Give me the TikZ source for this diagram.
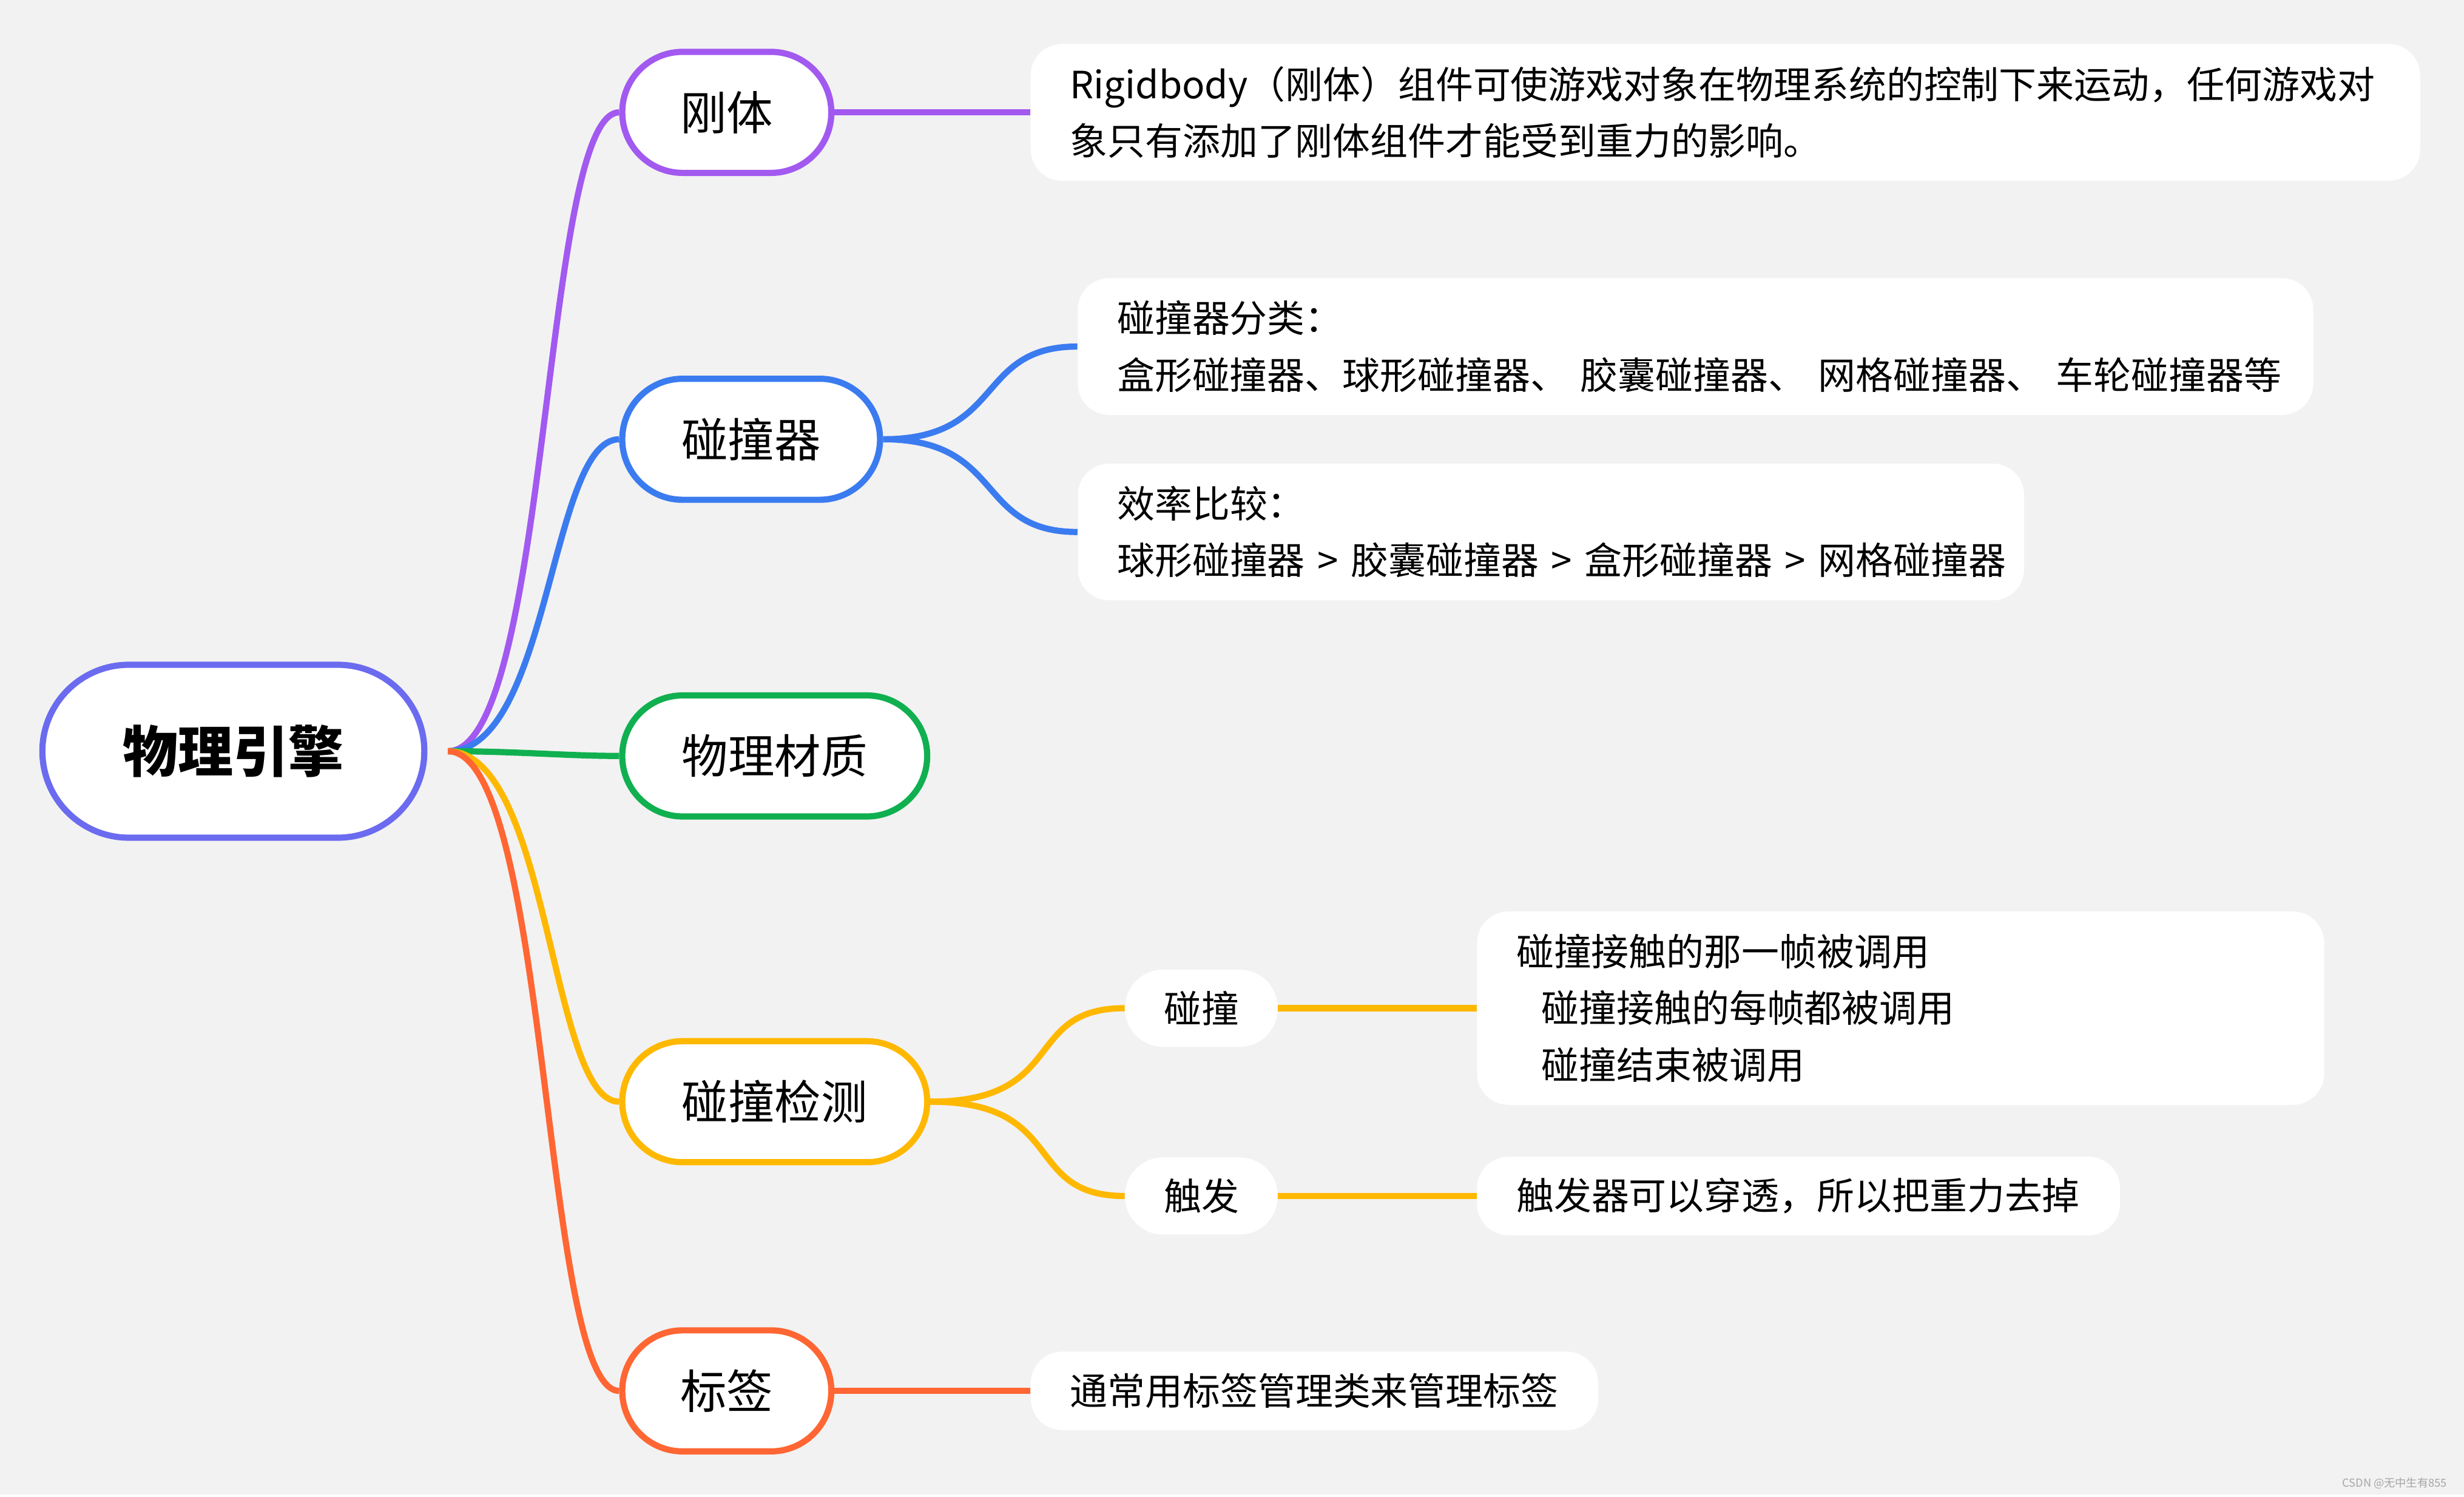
\documentclass[tikz,border=0pt]{standalone}
\usepackage{fontspec}
\setmainfont{Noto Sans CJK SC}
\definecolor{bg}{HTML}{F2F2F2}
\definecolor{croot}{HTML}{6B6BF0}
\definecolor{cpur}{HTML}{A259F0}
\definecolor{cblue}{HTML}{3B7BF0}
\definecolor{cgreen}{HTML}{10B050}
\definecolor{cyel}{HTML}{FFB800}
\definecolor{corg}{HTML}{FF6633}
\begin{document}
\begin{tikzpicture}[x=0.025cm,y=-0.025cm,
  mainbox/.style={draw,line width=2.8pt,fill=white,rounded corners=0.96cm,minimum height=1.925cm,inner sep=0pt,font=\fontsize{21}{25}\selectfont},
  leaf/.style={fill=white,rounded corners=0.5cm,align=left,inner xsep=0.625cm,inner ysep=0pt,font=\fontsize{17}{25.6}\selectfont},
  small/.style={fill=white,rounded corners=0.6cm,minimum width=2.425cm,minimum height=1.225cm,inner sep=0pt,font=\fontsize{17}{20}\selectfont},
  conn/.style={line width=2.8pt}]
\fill[bg] (0,0) rectangle (1568,951);
\node[draw=croot,line width=2.8pt,fill=white,rounded corners=1.375cm,minimum width=6.075cm,minimum height=2.75cm,font=\fontsize{25}{30}\selectfont\bfseries] (root) at (148.5,478) {物理引擎};
\node[mainbox,draw=cpur,minimum width=3.325cm] (gt) at (462.5,71.5) {刚体};
\node[mainbox,draw=cblue,minimum width=4.1cm] (pzq) at (478,279.5) {碰撞器};
\node[mainbox,draw=cgreen,minimum width=4.85cm] (wlcz) at (493,481) {物理材质};
\node[mainbox,draw=cyel,minimum width=4.85cm] (pzjc) at (493,701) {碰撞检测};
\node[mainbox,draw=corg,minimum width=3.325cm] (bq) at (462.5,885) {标签};
\node[leaf,text width=20.85cm,minimum height=2.175cm] (l1) at (1098,71.5) {Rigidbody（刚体）组件可使游戏对象在物理系统的控制下来运动，任何游戏对\\象只有添加了刚体组件才能受到重力的影响。};
\node[leaf,text width=18.4cm,minimum height=2.175cm] (l2) at (1079,220.5) {\mbox{碰撞器分类：}\\\mbox{盒形碰撞器、球形碰撞器、 胶囊碰撞器、 网格碰撞器、 车轮碰撞器等}};
\node[leaf,text width=13.8cm,minimum height=2.175cm] (l3) at (987,338.5) {\mbox{效率比较：}\\\mbox{球形碰撞器 > 胶囊碰撞器 > 盒形碰撞器 > 网格碰撞器}};
\node[small] (pz) at (764.5,641.5) {碰撞};
\node[small] (cf) at (764.5,761) {触发};
\node[leaf,text width=12.225cm,minimum height=3.075cm] (l4) at (1209.5,641.5) {碰撞接触的那一帧被调用\\\hspace*{0.4cm}碰撞接触的每帧都被调用\\\hspace*{0.4cm}碰撞结束被调用};
\node[leaf,text width=8.975cm,minimum height=1.25cm] (l5) at (1144.5,761) {触发器可以穿透，所以把重力去掉};
\node[leaf,text width=7.775cm,minimum height=1.25cm] (l6) at (836.5,885) {通常用标签管理类来管理标签};
\coordinate (r0) at (285,478);
\draw[conn,cpur] (r0) .. controls (350,478) and (345,71.5) .. (gt.west);
\draw[conn,cblue] (r0) .. controls (350,478) and (350,279.5) .. (pzq.west);
\draw[conn,cgreen] (r0) .. controls (330,478) and (360,481) .. (wlcz.west);
\draw[conn,cyel] (r0) .. controls (350,478) and (350,701) .. (pzjc.west);
\draw[conn,corg] (r0) .. controls (350,478) and (345,885) .. (bq.west);
\draw[conn,cpur] (gt.east) -- (l1.west);
\draw[conn,cblue] (pzq.east) .. controls (640,279.5) and (620,220.5) .. (l2.west);
\draw[conn,cblue] (pzq.east) .. controls (640,279.5) and (620,338.5) .. (l3.west);
\draw[conn,cyel] (pzjc.east) .. controls (680,701) and (650,641.5) .. (pz.west);
\draw[conn,cyel] (pzjc.east) .. controls (680,701) and (650,761) .. (cf.west);
\draw[conn,cyel] (pz.east) -- (l4.west);
\draw[conn,cyel] (cf.east) -- (l5.west);
\draw[conn,corg] (bq.east) -- (l6.west);
\node[text=gray!70,font=\fontsize{5}{6}\selectfont,anchor=east] (wm) at (1562,944) {CSDN @无中生有855};
\end{tikzpicture}
\end{document}
